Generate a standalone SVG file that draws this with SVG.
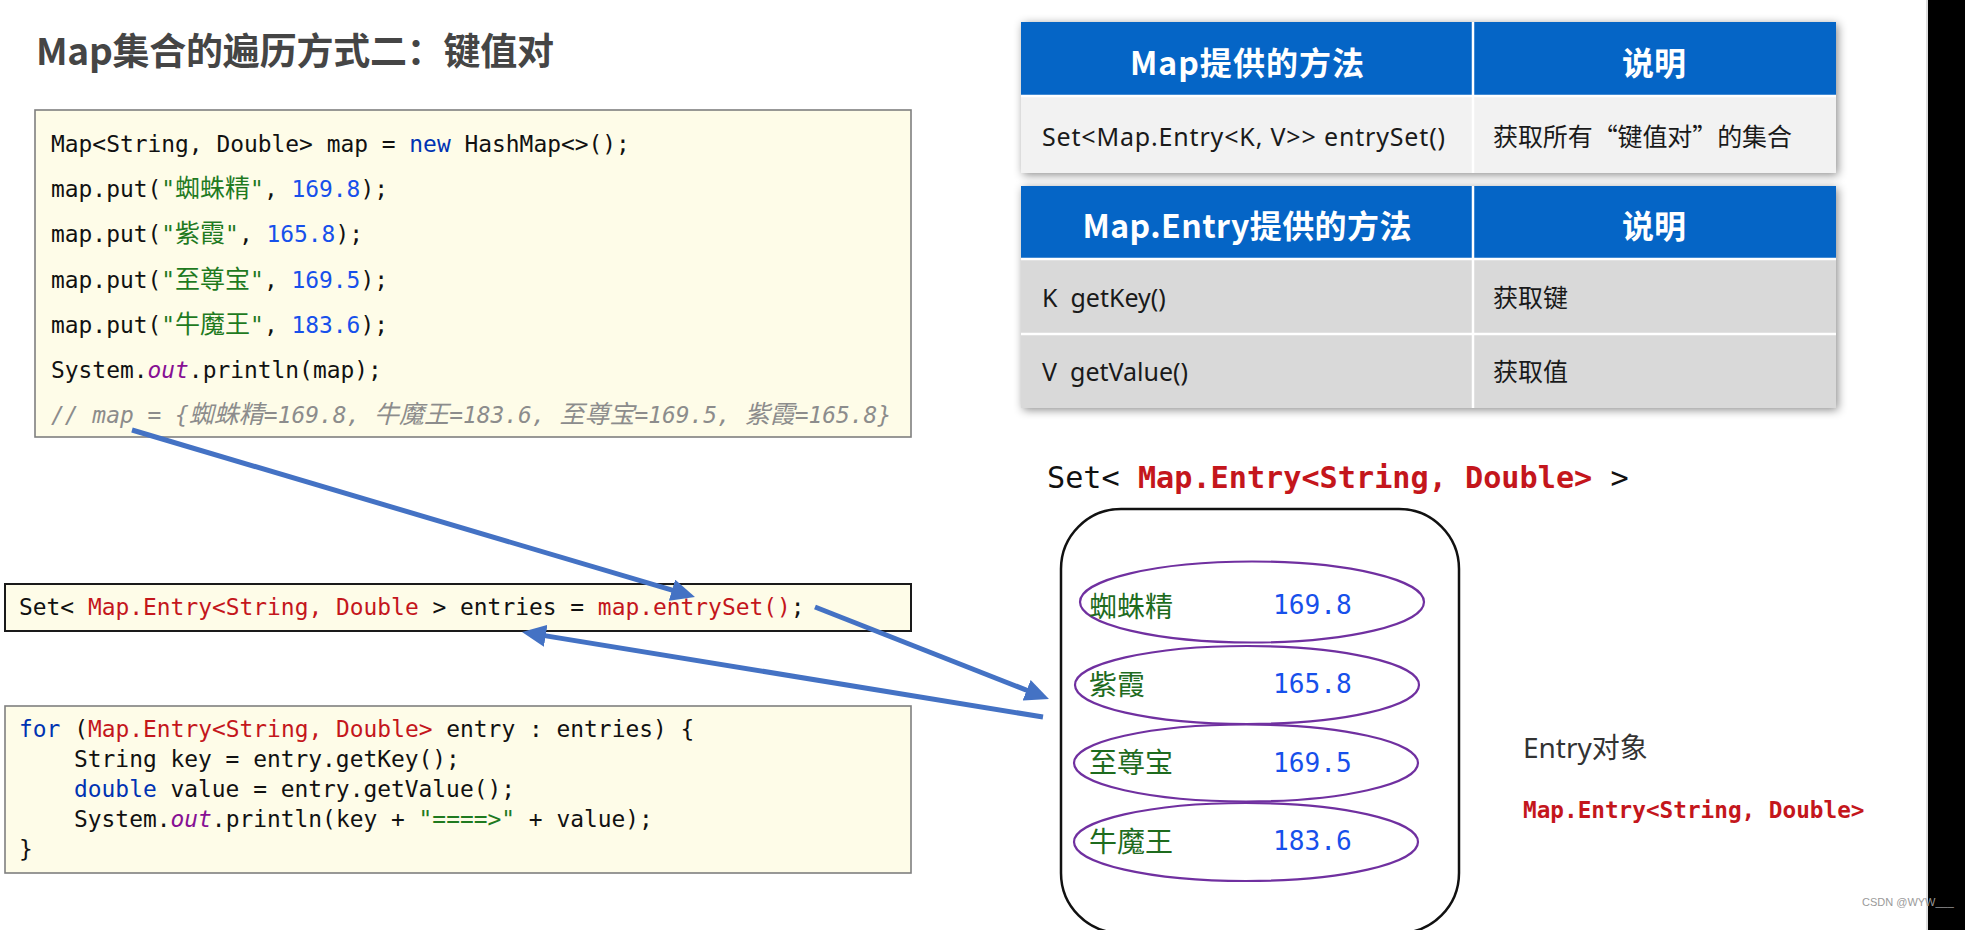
<svg xmlns="http://www.w3.org/2000/svg" width="1965" height="930" viewBox="0 0 1965 930">
<defs>
<style>
.code{font-family:"DejaVu Sans Mono","Liberation Mono",monospace;font-size:22.9px;fill:#111}
.cjk{font-family:"Noto Sans CJK SC",sans-serif;font-size:25px}
.kw{fill:#0033B3}
.str{fill:#1F7A1F}
.num{fill:#1750EB}
.out{fill:#871094;font-style:italic}
.red{fill:#C4161C}
.cmt{fill:#8C8C8C;font-style:italic}
.box{fill:#FEFCE8;stroke:#7F7F7F;stroke-width:1.6}
.th{font-family:"Noto Sans CJK SC","Noto Sans",sans-serif;font-weight:bold;font-size:32px;fill:#fff}
.td{font-family:"Noto Sans","Noto Sans CJK SC",sans-serif;font-size:25px;fill:#1a1a1a}
.tdc{font-family:"Noto Sans CJK SC",sans-serif;font-size:25px;fill:#1a1a1a}
.ell{fill:none;stroke:#7030A0;stroke-width:2.2}
.name{font-family:"Noto Sans CJK SC",sans-serif;font-size:28px;fill:#1E6B1E}
.val{font-family:"DejaVu Sans Mono","Liberation Mono",monospace;font-size:26.2px;fill:#1750EB}
.arrow{stroke:#4472C4;stroke-width:5;fill:none;marker-end:url(#ah)}
</style>
<marker id="ah" markerUnits="userSpaceOnUse" markerWidth="24" markerHeight="22" refX="9" refY="11" orient="auto">
<path d="M0,0 L24,11 L0,22 z" fill="#4472C4"/>
</marker>
<filter id="shadow" x="-5%" y="-10%" width="110%" height="125%">
<feDropShadow dx="2" dy="2" stdDeviation="5" flood-color="#000" flood-opacity="0.45"/>
</filter>
</defs>
<rect x="0" y="0" width="1965" height="930" fill="#fff"/>

<g id="title">
<text x="36" y="65" font-family="Noto Sans CJK SC, sans-serif" font-weight="bold" font-size="37" fill="#454545" textLength="518" lengthAdjust="spacing">Map集合的遍历方式二：键值对</text>
</g>

<g id="code-map">
<rect class="box" x="35" y="110" width="876" height="327"/>
<text class="code" x="51" y="152" xml:space="preserve">Map&lt;String, Double&gt; map = <tspan class="kw">new</tspan> HashMap&lt;&gt;();</text>
<text class="code" x="51" y="197" xml:space="preserve">map.put(<tspan class="str">"<tspan class="cjk">蜘蛛精</tspan>"</tspan>, <tspan class="num">169.8</tspan>);</text>
<text class="code" x="51" y="242" xml:space="preserve">map.put(<tspan class="str">"<tspan class="cjk">紫霞</tspan>"</tspan>, <tspan class="num">165.8</tspan>);</text>
<text class="code" x="51" y="287.5" xml:space="preserve">map.put(<tspan class="str">"<tspan class="cjk">至尊宝</tspan>"</tspan>, <tspan class="num">169.5</tspan>);</text>
<text class="code" x="51" y="332.5" xml:space="preserve">map.put(<tspan class="str">"<tspan class="cjk">牛魔王</tspan>"</tspan>, <tspan class="num">183.6</tspan>);</text>
<text class="code" x="51" y="378" xml:space="preserve">System.<tspan class="out">out</tspan>.println(map);</text>
<text class="code cmt" x="51" y="422.5" xml:space="preserve">// map = {<tspan class="cjk">蜘蛛精</tspan>=169.8, <tspan class="cjk">牛魔王</tspan>=183.6, <tspan class="cjk">至尊宝</tspan>=169.5, <tspan class="cjk">紫霞</tspan>=165.8}</text>
</g>

<g id="code-entryset">
<rect x="5" y="584" width="906" height="47" fill="#FEFCE8" stroke="#1a1a1a" stroke-width="2"/>
<text class="code" x="19" y="615" xml:space="preserve">Set&lt; <tspan class="red">Map.Entry&lt;String, Double</tspan> &gt; entries = <tspan class="red">map.entrySet()</tspan>;</text>
</g>

<g id="code-loop">
<rect class="box" x="5" y="706" width="906" height="167"/>
<text class="code" x="19" y="737" xml:space="preserve"><tspan class="kw">for</tspan> (<tspan class="red">Map.Entry&lt;String, Double&gt;</tspan> entry : entries) {</text>
<text class="code" x="74" y="767" xml:space="preserve">String key = entry.getKey();</text>
<text class="code" x="74" y="797" xml:space="preserve"><tspan class="kw">double</tspan> value = entry.getValue();</text>
<text class="code" x="74" y="827" xml:space="preserve">System.<tspan class="out">out</tspan>.println(key + <tspan class="str">"====&gt;"</tspan> + value);</text>
<text class="code" x="19" y="857">}</text>
</g>

<g id="table-map">
<rect x="1021" y="22" width="815" height="151" fill="#F2F2F2" filter="url(#shadow)"/>
<rect x="1021" y="22" width="815" height="74" fill="#0565C6"/>
<line x1="1021" y1="96" x2="1836" y2="96" stroke="#fff" stroke-width="2.5"/>
<line x1="1473" y1="22" x2="1473" y2="173" stroke="#fff" stroke-width="2.5"/>
<text class="th" x="1247" y="75" text-anchor="middle" textLength="234" lengthAdjust="spacing">Map提供的方法</text>
<text class="th" x="1654" y="75" text-anchor="middle">说明</text>
<text class="td" x="1042" y="146" textLength="403" lengthAdjust="spacing">Set&lt;Map.Entry&lt;K, V&gt;&gt; entrySet()</text>
<text class="tdc" x="1493" y="146" textLength="299" lengthAdjust="spacing">获取所有“键值对”的集合</text>
</g>

<g id="table-entry">
<rect x="1021" y="186" width="815" height="222" fill="#D9D9D9" filter="url(#shadow)"/>
<rect x="1021" y="186" width="815" height="73" fill="#0565C6"/>
<line x1="1021" y1="259" x2="1836" y2="259" stroke="#fff" stroke-width="2.5"/>
<line x1="1021" y1="334" x2="1836" y2="334" stroke="#fff" stroke-width="2.5"/>
<line x1="1473" y1="186" x2="1473" y2="408" stroke="#fff" stroke-width="2.5"/>
<text class="th" x="1247" y="238" text-anchor="middle" textLength="329" lengthAdjust="spacing">Map.Entry提供的方法</text>
<text class="th" x="1654" y="238" text-anchor="middle">说明</text>
<text class="td" x="1042" y="307" xml:space="preserve">K  getKey()</text>
<text class="tdc" x="1493" y="307">获取键</text>
<text class="td" x="1042" y="381" xml:space="preserve">V  getValue()</text>
<text class="tdc" x="1493" y="381">获取值</text>
</g>

<g id="set-label">
<text x="1047" y="488" font-family="DejaVu Sans Mono, Liberation Mono, monospace" font-size="30.2" fill="#111" xml:space="preserve">Set&lt; <tspan font-weight="bold" fill="#C4161C">Map.Entry&lt;String, Double&gt;</tspan> &gt;</text>
</g>

<g id="set-container">
<rect x="1061" y="509" width="398" height="424" rx="60" ry="60" fill="none" stroke="#111" stroke-width="2.5"/>
</g>

<g id="entry-1">
<ellipse class="ell" cx="1252" cy="602" rx="172" ry="40.5"/>
<text class="name" x="1089" y="617">蜘蛛精</text>
<text class="val" x="1273" y="614">169.8</text>
</g>
<g id="entry-2">
<ellipse class="ell" cx="1247" cy="685" rx="172" ry="39"/>
<text class="name" x="1089" y="695">紫霞</text>
<text class="val" x="1273" y="693">165.8</text>
</g>
<g id="entry-3">
<ellipse class="ell" cx="1246" cy="763" rx="172" ry="38.5"/>
<text class="name" x="1089" y="773">至尊宝</text>
<text class="val" x="1273" y="772">169.5</text>
</g>
<g id="entry-4">
<ellipse class="ell" cx="1246" cy="842" rx="172" ry="39"/>
<text class="name" x="1089" y="852">牛魔王</text>
<text class="val" x="1273" y="850">183.6</text>
</g>

<g id="entry-caption">
<text x="1523" y="758" font-family="Noto Sans, Noto Sans CJK SC, sans-serif" font-size="28" fill="#333">Entry对象</text>
<text x="1523" y="818" font-family="DejaVu Sans Mono, Liberation Mono, monospace" font-weight="bold" font-size="22.7" fill="#C4161C">Map.Entry&lt;String, Double&gt;</text>
</g>

<g id="connectors">
<line class="arrow" x1="132" y1="430" x2="680.6" y2="592.7"/>
<line class="arrow" x1="815" y1="607" x2="1035" y2="693.5"/>
<line class="arrow" x1="1043" y1="717" x2="536.8" y2="634.4"/>
</g>

<rect x="1928" y="0" width="37" height="930" fill="#000"/>
<line x1="1927" y1="0" x2="1927" y2="930" stroke="#bbb" stroke-width="1"/>
<text x="1862" y="906" font-family="Liberation Sans, sans-serif" font-size="11" fill="#9a9a9a">CSDN @WYW___</text>
</svg>
